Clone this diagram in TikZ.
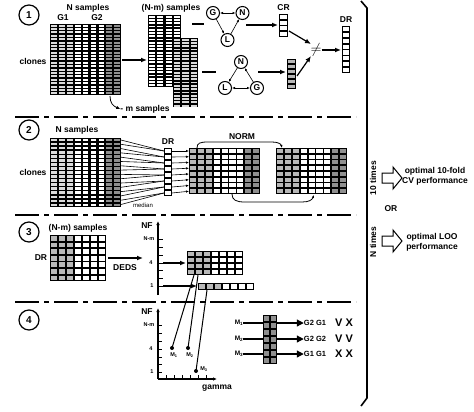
\documentclass[tikz,border=0pt]{standalone}
\usepackage{fontspec}
\setmainfont{Liberation Sans}
\usetikzlibrary{arrows.meta}
\definecolor{lg}{gray}{0.86}
\definecolor{mg}{gray}{0.72}
\definecolor{dg}{gray}{0.56}
\newcommand\dashmat[7]{%
  \fill[black] (#1,#2) rectangle ++({#4*#6},{#5*#7});
  \foreach \cc [count=\ci from 0] in {#3}{
    \foreach \rj in {1,...,#5}{
      \fill[\cc] ({#1+\ci*#6+1.1},{#2+(\rj-1)*#7+0.7}) rectangle ++({#6-2.2},{#7-1.4});
    }}%
}
\newcommand\gridmat[7]{%
  \fill[black] (#1,#2) rectangle ++({#4*#6},{#5*#7});
  \foreach \cc [count=\ci from 0] in {#3}{
    \foreach \rj in {1,...,#5}{
      \fill[\cc] ({#1+\ci*#6+0.9},{#2+(\rj-1)*#7+0.9}) rectangle ++({#6-1.8},{#7-1.8});
    }}%
}
\tikzset{
 lbl/.style={font=\bfseries\fontsize{8.5}{10}\selectfont, inner sep=0pt},
 sm/.style={font=\bfseries\fontsize{5.5}{6.5}\selectfont, inner sep=0pt},
 num/.style={circle, draw, line width=1.2pt, minimum size=20pt, inner sep=0pt, font=\bfseries\fontsize{10}{11}\selectfont},
 gn/.style={circle, draw, line width=1pt, minimum size=13pt, inner sep=0pt, font=\bfseries\fontsize{8.5}{9}\selectfont},
 arr/.style={-{Latex[length=6pt,width=5pt]}, line width=1.2pt},
 sarr/.style={-{Latex[length=3pt,width=2.5pt]}, line width=0.6pt},
 dsarr/.style={{Latex[length=3pt,width=2.5pt]}-{Latex[length=3pt,width=2.5pt]}, line width=0.6pt},
 sepline/.style={line width=1.3pt, dash pattern=on 24pt off 5pt on 5pt off 5pt},
 axis/.style={-{Latex[length=4pt,width=3.5pt]}, line width=1.2pt},
 hol/.style={draw, line width=1pt, fill=white},
}
\begin{document}
\begin{tikzpicture}[x=1pt,y=-1pt]
\fill[white] (0,0) rectangle (474,412);
\useasboundingbox (0,0) rectangle (474,412);

% ---------- section 1 ----------
\node[num] (s1) at (29,15) {1};
\node[lbl] (ns1) at (88,8) {N samples};
\node[lbl] (g1) at (63,18) {G1};
\node[lbl] (g2) at (97,18) {G2};
\node[lbl] (cl1) at (33,61) {clones};
\dashmat{50}{24}{lg,lg,lg,white,white,white,white,dg,dg}{9}{21}{7.9}{3.38}
\coordinate (m1r) at (122,60);
\coordinate (nm1l) at (147,60);
\draw[arr] (m1r) -- (nm1l);
\coordinate (m1b) at (110,96);
\node[lbl] (msamp) at (145,109) {- m samples};
\draw[-{Latex[length=4pt,width=3.5pt]}, line width=0.8pt] (m1b) .. controls (110,103) and (113,106) .. (msamp.west);

\node[lbl] (nms1) at (171,8) {(N-m) samples};
\dashmat{148}{15}{white,white,white,white}{4}{22}{8.2}{3.27}
\dashmat{173}{38}{lg,lg,lg}{3}{21}{8.3}{3.3}

% networks
\coordinate (d1a) at (192,24); \coordinate (d1b) at (204,24);
\draw[line width=1.2pt] (d1a) -- (d1b);
\node[gn] (G1) at (213,13) {G};
\node[gn] (N1) at (242.5,13) {N};
\node[gn] (L1) at (227.5,40) {L};
\draw[dsarr] (G1) -- (N1);
\draw[sarr] (G1) -- (L1);
\draw[sarr] (L1) -- (N1);
\coordinate (d2a) at (202,72); \coordinate (d2b) at (216,72);
\draw[line width=1.2pt] (d2a) -- (d2b);
\node[gn] (N2) at (241,62) {N};
\node[gn] (L2) at (225,88) {L};
\node[gn] (G2) at (257,88) {G};
\draw[sarr] (N2) -- (L2);
\draw[dsarr] (L2) -- (G2);
\draw[sarr] (G2) -- (N2);

% CR and vectors
\node[lbl] (cr) at (283.5,8) {CR};
\gridmat{279}{14}{white}{1}{4}{9}{5.75}
\coordinate (a1s) at (246,25); \coordinate (a1e) at (278,25);
\draw[arr] (a1s) -- (a1e);
\gridmat{287}{59}{mg}{1}{6}{9}{5}
\coordinate (a2s) at (258,72); \coordinate (a2e) at (286,72);
\draw[arr] (a2s) -- (a2e);
\node[inner sep=0pt, font=\fontsize{14}{14}\selectfont] (neq) at (316,50) {$\neq$};
\coordinate (crb) at (289,31); \coordinate (gvb) at (297,76);
\draw[arr] (crb) -- (311,44);
\draw[arr] (gvb) -- (311,56);
\node[lbl] (dr1) at (346,20) {DR};
\gridmat{342}{26}{white}{1}{8}{8}{5.9}
\coordinate (drl) at (341,50);
\draw[arr] (neq.east) -- (drl);

\draw[sepline] (15,117) -- (356,117);

% ---------- section 2 ----------
\node[num] (s2) at (29,130) {2};
\node[lbl] (ns2) at (77,130) {N samples};
\node[lbl] (cl2) at (33,172) {clones};
\dashmat{50}{138}{lg,lg,lg,white,white,white,white,dg,dg}{9}{17}{7.9}{4.06}
\node[lbl] (dr2) at (168,142) {DR};
\foreach \k in {0,...,15}{
  \draw[line width=0.6pt] (121,{140+\k*4.3}) -- (164,{151+int(\k/2)*6});
}
\gridmat{164}{148}{white}{1}{8}{8}{6}
\node[inner sep=0pt, font=\fontsize{6}{7}\selectfont] (med) at (143,205) {median};
\foreach \k in {0,...,7}{
  \draw[sarr] (172,{151+\k*6}) -- (189,{151+\k*5.75});
}
\gridmat{189}{148}{mg,mg,mg,white,white,white,white,dg,dg}{9}{8}{7.9}{5.75}
\gridmat{276}{148}{mg,mg,mg,white,white,white,white,dg,dg}{9}{8}{7.9}{5.75}
\node[lbl] (norm) at (242,137) {NORM};
\draw[sarr, line width=0.8pt] (197,148) .. controls (197,143) and (200,142) .. (208,142) -- (272,142) .. controls (278,142) and (281,144) .. (282,148);
\draw[sarr, line width=0.8pt] (232,194) .. controls (232,200) and (236,202) .. (245,202) -- (302,202) .. controls (309,202) and (312,200) .. (314,195);

\draw[sepline] (15,215) -- (356,215);

% ---------- section 3 ----------
\node[num] (s3) at (29,232) {3};
\node[lbl] (nms3) at (78,228) {(N-m) samples};
\node[lbl] (dr3) at (41,258) {DR};
\gridmat{50}{235}{mg,mg,mg,white,white,white,white}{7}{7}{8}{6.6}
\coordinate (a3s) at (108,258); \coordinate (a3e) at (143,258);
\draw[arr] (a3s) -- (a3e);
\node[lbl] (deds) at (125,268) {DEDS};
\coordinate (ax3o) at (158,295); \coordinate (ax3t) at (158,221);
\draw[axis] (ax3o) -- (ax3t);
\node[lbl] (nf3) at (147,226) {NF};
\node[sm] (nm3) at (149,239) {N-m};
\node[sm] (f3) at (151,263) {4};
\node[sm] (o3) at (152,286) {1};
\foreach \yy in {239,247,255,263,270,278,286}{\draw[line width=1pt] (158,\yy) -- (163,\yy);}
\gridmat{187}{251}{mg,mg,mg,white,white,white,white}{7}{4}{8}{6}
\gridmat{198}{283}{mg,mg,mg,white,white,white,white}{7}{1}{8}{7}
\coordinate (a4s) at (163,263); \coordinate (a4e) at (186,263);
\draw[arr] (a4s) -- (a4e);
\coordinate (a5s) at (163,286); \coordinate (a5e) at (197,286);
\draw[arr] (a5s) -- (a5e);

\draw[sepline] (15,302) -- (356,302);

% ---------- section 4 ----------
\node[num] (s4) at (29,320) {4};
\coordinate (ax4o) at (158,379);
\draw[axis] (ax4o) -- (158,308);
\draw[axis] (ax4o) -- (217,379);
\node[lbl] (nf4) at (147,312) {NF};
\node[sm] (nm4) at (149,325) {N-m};
\node[sm] (f4) at (151,349) {4};
\node[sm] (o4) at (152,372) {1};
\node[lbl] (gam) at (217,388) {gamma};
\foreach \yy in {325,333,341,349,357,364,372}{\draw[line width=1pt] (158,\yy) -- (162,\yy);}
\foreach \xx in {166,174,182,190,198,206}{\draw[line width=1pt] (\xx,379) -- (\xx,375);}
\fill (172,348) circle (2pt) coordinate (p1);
\fill (188,348) circle (2pt) coordinate (p2);
\fill (196,371) circle (2pt) coordinate (p3);
\node[sm] (pm1) at (174,355) {M\textsubscript{1}};
\node[sm] (pm2) at (190,355) {M\textsubscript{2}};
\node[sm] (pm3) at (204,369) {M\textsubscript{3}};
\coordinate (t1) at (194,275); \coordinate (t2) at (198,275); \coordinate (t3) at (207,290);
\draw[line width=1pt] (p1) -- (t1);
\draw[line width=1pt] (p2) -- (t2);
\draw[line width=1pt] (p3) -- (t3);

\gridmat{263}{315}{dg,dg}{2}{7}{7}{7}
\foreach \yy/\ii/\gg/\vv in {323/1/{G2 G1}/{V X},339/2/{G2 G2}/{V V},354/3/{G1 G1}/{X X}}{
  \node[sm, font=\bfseries\fontsize{6.5}{7}\selectfont] (M\ii) at (239,\yy) {M\textsubscript{\ii}};
  \draw[line width=1.2pt] (M\ii.east) -- (263,\yy);
  \node[lbl, font=\bfseries\fontsize{7.5}{8}\selectfont] (gg\ii) at (315,\yy) {\gg};
  \draw[-{Triangle[length=7pt,width=7pt]}, line width=1.2pt] (277,\yy) -- (gg\ii.west);
  \node[lbl, font=\bfseries\fontsize{11}{12}\selectfont] (vv\ii) at (344,\yy) {\vv};
}

% ---------- right side ----------
\draw[line width=1.6pt] (361,1) -- (367,8) -- (367,398) -- (361,406);
\node[lbl, rotate=90] (ten) at (373,178) {10 times};
\node[lbl, rotate=90] (nt) at (373,242) {N times};
\draw[hol] (382,173) -- (393,173) -- (393,167) -- (402,178) -- (393,189) -- (393,183) -- (382,183) -- cycle;
\draw[hol] (382,236) -- (393,236) -- (393,230) -- (402,241) -- (393,252) -- (393,246) -- (382,246) -- cycle;
\node[lbl, align=center] (opt1) at (435,176) {optimal 10-fold\\CV performance};
\node[lbl] (or) at (391,209) {OR};
\node[lbl, align=center] (opt2) at (432,242) {optimal LOO\\performance};
\end{tikzpicture}
\end{document}
